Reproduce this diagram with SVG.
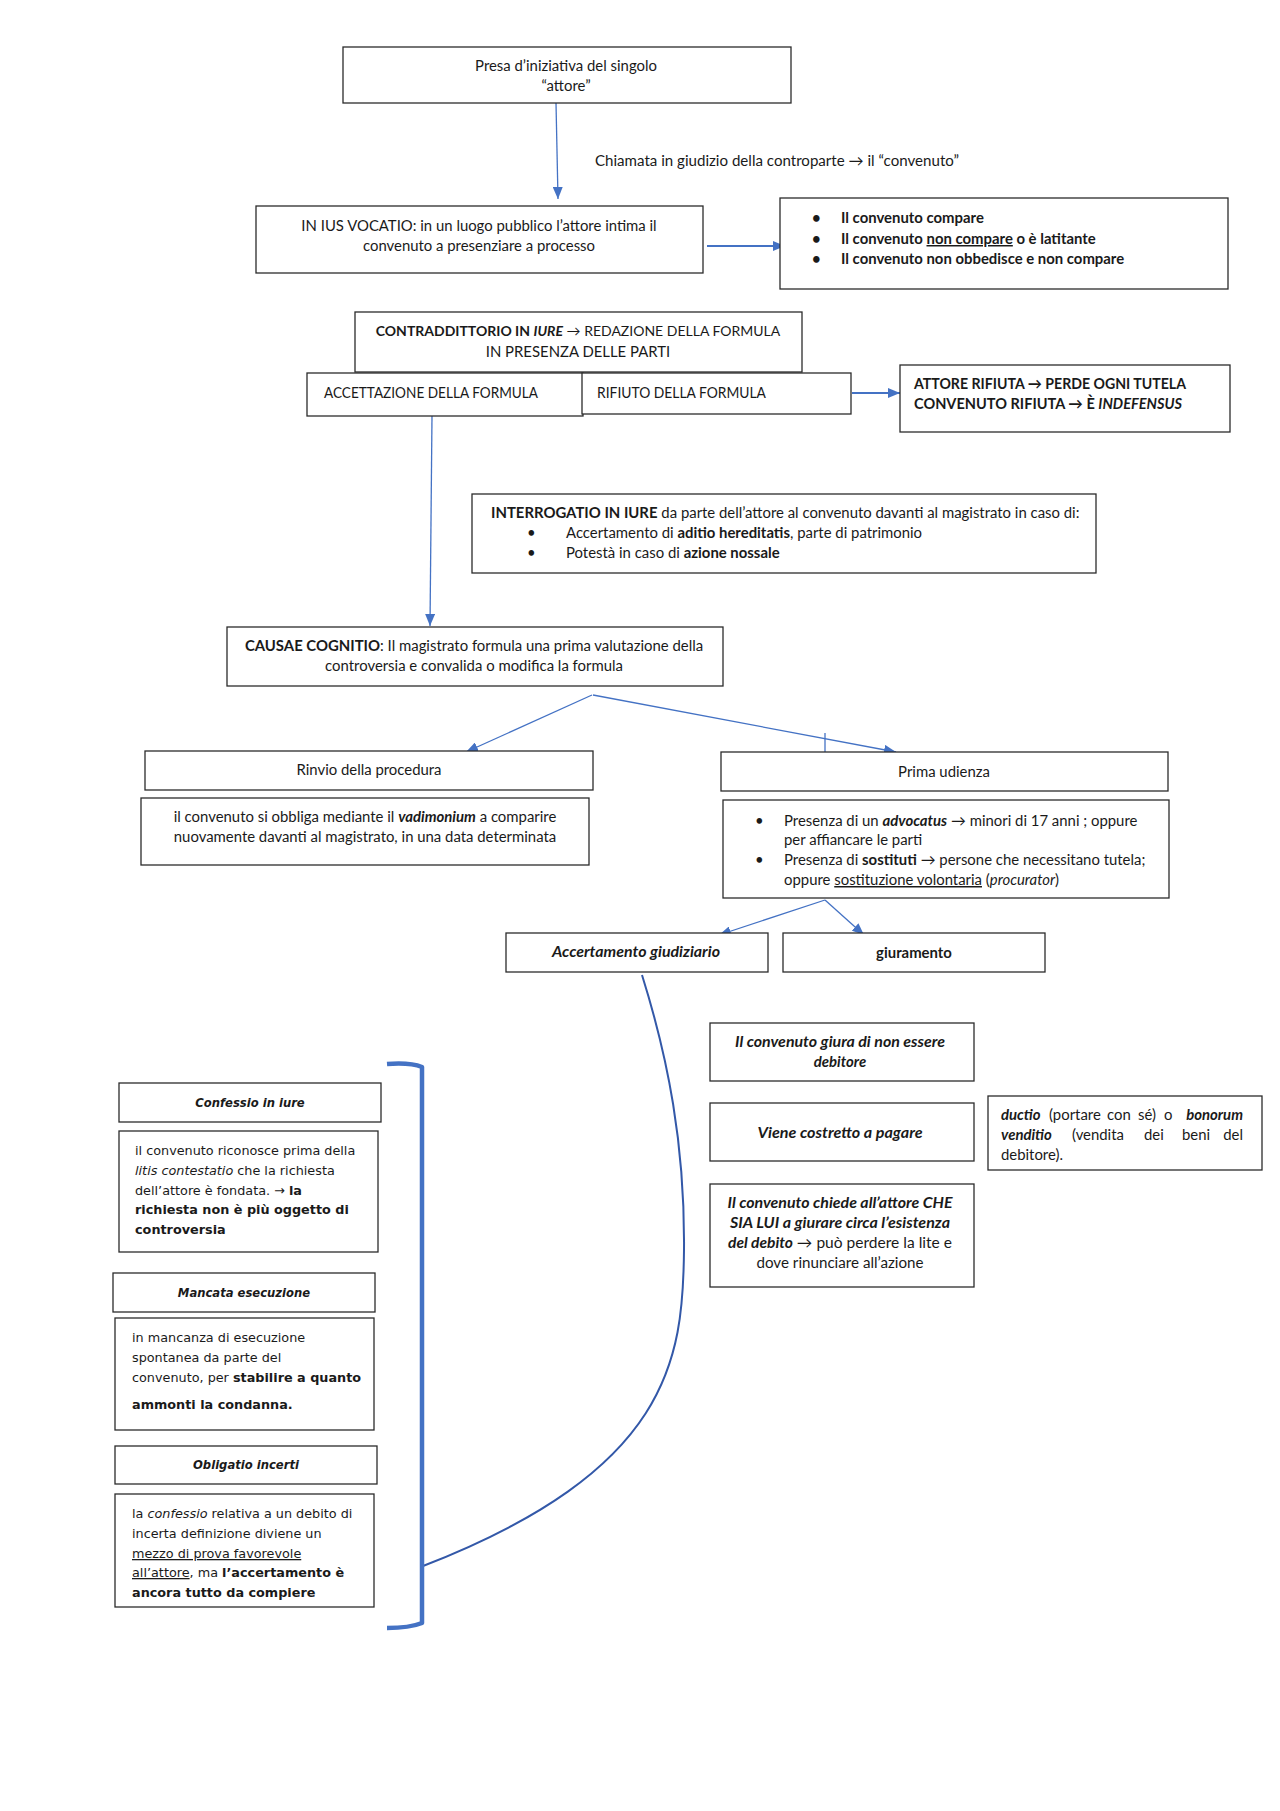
<svg xmlns="http://www.w3.org/2000/svg" width="1280" height="1811" viewBox="0 0 1280 1811">
<defs>
<style>
.box{fill:#fff;stroke:#2b2b2b;stroke-width:1.3}
.t{font-family:Lato,"Liberation Sans",sans-serif;font-size:14.9px;fill:#1a1a1a}
.v{font-family:"DejaVu Sans","Liberation Sans",sans-serif;font-size:12.8px;fill:#1a1a1a}
.vt{font-size:11.6px}
.c{text-anchor:middle}
.e{text-anchor:end}
.b{font-weight:bold}
.i{font-style:italic}
.u{text-decoration:underline}
.conn{stroke:#4472C4;stroke-width:1.3;fill:none}
.thick{stroke-width:2}
.curve{stroke:#3358A8;stroke-width:2;fill:none}
.bracket{stroke:#4472C4;stroke-width:4.5;fill:none;stroke-linejoin:round}
</style>
<marker id="ah" markerUnits="userSpaceOnUse" markerWidth="12" markerHeight="10" refX="12" refY="5" orient="auto">
<path d="M0,0 L12,5 L0,10 z" fill="#4472C4"/>
</marker>
</defs>
<rect width="1280" height="1811" fill="#fff"/>

<g id="connectors">
<line class="conn" x1="556" y1="103" x2="558" y2="199" marker-end="url(#ah)"/>
<line class="conn thick" x1="707" y1="246" x2="785" y2="246" marker-end="url(#ah)"/>
<line class="conn thick" x1="852" y1="393" x2="900" y2="393" marker-end="url(#ah)"/>
<line class="conn" x1="432" y1="416" x2="430" y2="626" marker-end="url(#ah)"/>
<line class="conn" x1="592" y1="695" x2="466" y2="752" marker-end="url(#ah)"/>
<line class="conn" x1="593" y1="695" x2="896" y2="752" marker-end="url(#ah)"/>
<line class="conn" x1="825" y1="733" x2="825" y2="752"/>
<line class="conn" x1="825" y1="900" x2="719" y2="935" marker-end="url(#ah)"/>
<line class="conn" x1="825" y1="900" x2="864" y2="935" marker-end="url(#ah)"/>
<path class="curve" d="M642,975 C668,1058 685,1145 684,1250 C683,1360 670,1470 423,1566"/>
<path class="bracket" d="M387,1064 C400,1063 412,1063 422,1067 L422,1623 C412,1627 400,1628 387,1628"/>
</g>

<g id="n-presa">
<rect class="box" x="343" y="47" width="448" height="56"/>
<text class="t c" x="566" y="71">Presa d’iniziativa del singolo</text>
<text class="t c" x="566" y="91">“attore”</text>
</g>

<g id="l-chiamata">
<text class="t" x="595" y="166" textLength="364" lengthAdjust="spacingAndGlyphs">Chiamata in giudizio della controparte → il “convenuto”</text>
</g>

<g id="n-inius">
<rect class="box" x="256" y="206" width="447" height="67"/>
<text class="t c" x="479" y="231">IN IUS VOCATIO: in un luogo pubblico l’attore intima il</text>
<text class="t c" x="479" y="251">convenuto a presenziare a processo</text>
</g>

<g id="n-compare">
<rect class="box" x="780" y="198" width="448" height="91"/>
<text class="t b" x="812" y="223">•</text>
<text class="t b" x="841" y="223">Il convenuto compare</text>
<text class="t b" x="812" y="244">•</text>
<text class="t b" x="841" y="244">Il convenuto <tspan class="u">non compare</tspan> o è latitante</text>
<text class="t b" x="812" y="264">•</text>
<text class="t b" x="841" y="264">Il convenuto non obbedisce e non compare</text>
</g>

<g id="n-contraddittorio">
<rect class="box" x="355" y="312" width="447" height="60"/>
<text class="t c" x="578" y="336" style="font-size:14px"><tspan class="b">CONTRADDITTORIO IN </tspan><tspan class="b i">IURE</tspan> → REDAZIONE DELLA FORMULA</text>
<text class="t c" x="578" y="357">IN PRESENZA DELLE PARTI</text>
</g>

<g id="n-accettazione">
<rect class="box" x="307" y="373" width="276" height="43"/>
<text class="t" x="324" y="398" textLength="214" lengthAdjust="spacingAndGlyphs">ACCETTAZIONE DELLA FORMULA</text>
</g>

<g id="n-rifiuto">
<rect class="box" x="582" y="373" width="269" height="41"/>
<text class="t" x="597" y="398" textLength="169" lengthAdjust="spacingAndGlyphs">RIFIUTO DELLA FORMULA</text>
</g>

<g id="n-attore">
<rect class="box" x="900" y="365" width="330" height="67"/>
<text class="t b" x="914" y="389" textLength="272" lengthAdjust="spacingAndGlyphs">ATTORE RIFIUTA → PERDE OGNI TUTELA</text>
<text class="t b" x="914" y="409" textLength="268" lengthAdjust="spacingAndGlyphs">CONVENUTO RIFIUTA → È <tspan class="i">INDEFENSUS</tspan></text>
</g>

<g id="n-interrogatio">
<rect class="box" x="472" y="494" width="624" height="79"/>
<text class="t" x="491" y="518"><tspan class="b">INTERROGATIO IN IURE</tspan> da parte dell’attore al convenuto davanti al magistrato in caso di:</text>
<text class="t" x="527" y="538">•</text>
<text class="t" x="566" y="538">Accertamento di <tspan class="b">aditio hereditatis</tspan>, parte di patrimonio</text>
<text class="t" x="527" y="558">•</text>
<text class="t" x="566" y="558">Potestà in caso di <tspan class="b">azione nossale</tspan></text>
</g>

<g id="n-causae">
<rect class="box" x="227" y="627" width="496" height="59"/>
<text class="t c" x="474" y="651"><tspan class="b">CAUSAE COGNITIO</tspan>: Il magistrato formula una prima valutazione della</text>
<text class="t c" x="474" y="671">controversia e convalida o modifica la formula</text>
</g>

<g id="n-rinvio">
<rect class="box" x="145" y="751" width="448" height="39"/>
<text class="t c" x="369" y="775">Rinvio della procedura</text>
</g>

<g id="n-vadimonium">
<rect class="box" x="141" y="798" width="448" height="67"/>
<text class="t c" x="365" y="822">il convenuto si obbliga mediante il <tspan class="b i">vadimonium</tspan> a comparire</text>
<text class="t c" x="365" y="842">nuovamente davanti al magistrato, in una data determinata</text>
</g>

<g id="n-prima">
<rect class="box" x="721" y="752" width="447" height="39"/>
<text class="t c" x="944" y="777">Prima udienza</text>
</g>

<g id="n-presenza">
<rect class="box" x="723" y="800" width="446" height="98"/>
<text class="t" x="755" y="826">•</text>
<text class="t" x="784" y="826">Presenza di un <tspan class="b i">advocatus</tspan> → minori di 17 anni ; oppure</text>
<text class="t" x="784" y="845">per affiancare le parti</text>
<text class="t" x="755" y="865">•</text>
<text class="t" x="784" y="865">Presenza di <tspan class="b">sostituti</tspan> → persone che necessitano tutela;</text>
<text class="t" x="784" y="885">oppure <tspan class="u">sostituzione volontaria</tspan> (<tspan class="i">procurator</tspan>)</text>
</g>

<g id="n-accertamento">
<rect class="box" x="506" y="933" width="262" height="39"/>
<text class="t c b i" x="636" y="957" textLength="168" lengthAdjust="spacingAndGlyphs">Accertamento giudiziario</text>
</g>

<g id="n-giuramento">
<rect class="box" x="783" y="933" width="262" height="39"/>
<text class="t c b" x="914" y="958">giuramento</text>
</g>

<g id="n-giura">
<rect class="box" x="710" y="1023" width="264" height="58"/>
<text class="t c b i" x="840" y="1047" textLength="210" lengthAdjust="spacingAndGlyphs">Il convenuto giura di non essere</text>
<text class="t c b i" x="840" y="1067">debitore</text>
</g>

<g id="n-viene">
<rect class="box" x="710" y="1103" width="264" height="58"/>
<text class="t c b i" x="840" y="1138" textLength="165" lengthAdjust="spacingAndGlyphs">Viene costretto a pagare</text>
</g>

<g id="n-ductio">
<rect class="box" x="988" y="1096" width="274" height="74"/>
<text class="t b i" x="1001" y="1120">ductio</text>
<text class="t" x="1049" y="1120">(portare</text>
<text class="t" x="1107" y="1120">con</text>
<text class="t" x="1138" y="1120">sé)</text>
<text class="t" x="1164" y="1120">o</text>
<text class="t e b i" x="1243" y="1120">bonorum</text>
<text class="t b i" x="1001" y="1140">venditio</text>
<text class="t" x="1072" y="1140">(vendita</text>
<text class="t" x="1144" y="1140">dei</text>
<text class="t" x="1182" y="1140">beni</text>
<text class="t e" x="1243" y="1140">del</text>
<text class="t" x="1001" y="1160">debitore).</text>
</g>

<g id="n-chiede">
<rect class="box" x="710" y="1184" width="264" height="103"/>
<text class="t c b i" x="840" y="1208" textLength="225" lengthAdjust="spacingAndGlyphs">Il convenuto chiede all’attore CHE</text>
<text class="t c b i" x="840" y="1228" textLength="220" lengthAdjust="spacingAndGlyphs">SIA LUI a giurare circa l’esistenza</text>
<text class="t c" x="840" y="1248" textLength="224" lengthAdjust="spacingAndGlyphs"><tspan class="b i">del debito</tspan> → può perdere la lite e</text>
<text class="t c" x="840" y="1268" textLength="167" lengthAdjust="spacingAndGlyphs">dove rinunciare all’azione</text>
</g>

<g id="n-confessio">
<rect class="box" x="119" y="1083" width="262" height="39"/>
<text class="v vt c b i" x="250" y="1107">Confessio in iure</text>
</g>

<g id="n-confessio-body">
<rect class="box" x="119" y="1131" width="259" height="121"/>
<text class="v" x="135" y="1155">il convenuto riconosce prima della</text>
<text class="v" x="135" y="1175"><tspan class="i">litis contestatio</tspan> che la richiesta</text>
<text class="v" x="135" y="1195">dell’attore è fondata. → <tspan class="b">la</tspan></text>
<text class="v b" x="135" y="1214">richiesta non è più oggetto di</text>
<text class="v b" x="135" y="1234">controversia</text>
</g>

<g id="n-mancata">
<rect class="box" x="113" y="1273" width="262" height="39"/>
<text class="v vt c b i" x="244" y="1297">Mancata esecuzione</text>
</g>

<g id="n-mancata-body">
<rect class="box" x="115" y="1318" width="259" height="112"/>
<text class="v" x="132" y="1342">in mancanza di esecuzione</text>
<text class="v" x="132" y="1362">spontanea da parte del</text>
<text class="v" x="132" y="1382">convenuto, per <tspan class="b">stabilire a quanto</tspan></text>
<text class="v b" x="132" y="1409">ammonti la condanna.</text>
</g>

<g id="n-obligatio">
<rect class="box" x="115" y="1446" width="262" height="38"/>
<text class="v vt c b i" x="246" y="1469">Obligatio incerti</text>
</g>

<g id="n-obligatio-body">
<rect class="box" x="115" y="1494" width="259" height="113"/>
<text class="v" x="132" y="1518">la <tspan class="i">confessio</tspan> relativa a un debito di</text>
<text class="v" x="132" y="1538">incerta definizione diviene un</text>
<text class="v" x="132" y="1558"><tspan class="u">mezzo di prova favorevole</tspan></text>
<text class="v" x="132" y="1577"><tspan class="u">all’attore</tspan>, ma <tspan class="b">l’accertamento è</tspan></text>
<text class="v b" x="132" y="1597">ancora tutto da compiere</text>
</g>
</svg>
